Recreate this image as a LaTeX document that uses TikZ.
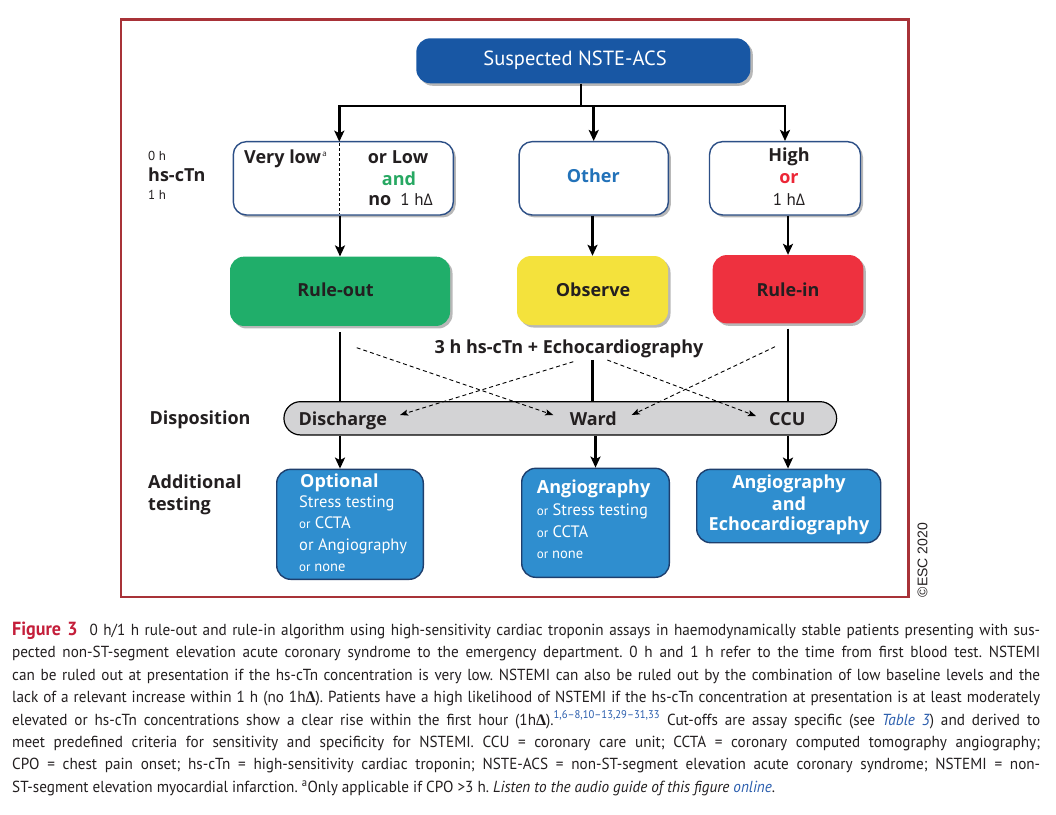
\documentclass[tikz,border=0pt]{standalone}
\usepackage{fontspec}
\setmainfont{PT Sans}
\newfontfamily\capfont[FakeStretch=0.95]{PT Sans}
\newfontfamily\dfont{Open Sans}
\newfontfamily\obold{Open Sans}
\newfontfamily\serd{Liberation Serif}
\newfontfamily\escfont{Liberation Sans}
\usetikzlibrary{arrows.meta,shadows}
\definecolor{frame}{HTML}{A83238}
\definecolor{topblue}{HTML}{1857A4}
\definecolor{boxnavy}{HTML}{2C4F86}
\definecolor{othertxt}{HTML}{2272B9}
\definecolor{andgreen}{HTML}{27A862}
\definecolor{orred}{HTML}{EC2636}
\definecolor{rogreen}{HTML}{20AE6A}
\definecolor{obyellow}{HTML}{F4E23C}
\definecolor{rired}{HTML}{EE313F}
\definecolor{pillgray}{HTML}{D3D3D5}
\definecolor{testblue}{HTML}{2F8ECF}
\definecolor{testborder}{HTML}{1E3F6E}
\definecolor{darktxt}{HTML}{231F20}
\definecolor{capred}{HTML}{C41E3A}
\definecolor{capblue}{HTML}{2B5EAE}
\newcommand\fsz[1]{\fontsize{#1}{#1}\selectfont}
\newcommand\bdelta{{\serd\bfseries Δ}}
\tikzset{
  ln/.style={line width=2.6pt, draw=black},
  arr/.style={ln, -{Stealth[length=11pt,width=10pt,inset=2.5pt]}},
  darr/.style={line width=0.9pt, dash pattern=on 4pt off 3pt, -{Stealth[length=8pt,width=6pt,inset=1.5pt]}},
  sh/.style={drop shadow={shadow xshift=2.5pt, shadow yshift=-2.5pt, opacity=0.28, fill=black}},
  wbox/.style={draw=boxnavy, line width=1.4pt, fill=white, rounded corners=13pt, inner sep=0pt, sh},
  cbox/.style={draw=none, rounded corners=14pt, inner sep=0pt, sh},
  tbox/.style={draw=testborder, line width=1.4pt, fill=testblue, rounded corners=14pt, inner sep=0pt},
  lbl/.style={inner sep=0pt, font=\obold\bfseries\fsz{18}, text=darktxt},
  txt/.style={inner sep=0pt, text=white},
  capl/.style={anchor=base west, inner sep=0pt, font=\capfont\fsz{16}\frenchspacing, text=darktxt}
}
\begin{document}
\begin{tikzpicture}[x=1pt,y=-1pt]
\useasboundingbox (0,0) rectangle (1056,814);
\fill[white] (0,0) rectangle (1056,814);
\draw[frame, line width=2.5pt] (121,19.5) rectangle (908.3,596.8);

% top node
\node[cbox, fill=topblue, minimum width=334pt, minimum height=45pt] (top) at (583.3,60.8) {};
\node[inner sep=0pt, font=\fsz{20.5}, text=white] (toptxt) at (575,60) {Suspected NSTE-ACS};

% hs-cTn boxes
\node[wbox, minimum width=220pt, minimum height=73.3pt] (vlow) at (343.3,178.3) {};
\node[wbox, minimum width=149.3pt, minimum height=73.3pt] (other) at (593.7,178.3) {};
\node[wbox, minimum width=151pt, minimum height=73.3pt] (high) at (785,178.3) {};
\coordinate (vl) at (339.3,141.7);
\draw[black, line width=0.9pt, dash pattern=on 3pt off 2pt] (339.3,143) -- (339.3,214);

\node[lbl, anchor=base west] (vltxt) at (244,163) {Very low\raisebox{7pt}{\mdseries\fsz{8}\,a}};
\node[lbl, anchor=base] (ortxt) at (398,163) {or Low};
\node[lbl, anchor=base, text=andgreen] (andtxt) at (399,185) {and};
\node[lbl, anchor=base] (notxt) at (400.5,205.7) {no {\rmfamily\mdseries\fsz{17} 1 h{\dfont\fsz{16}Δ}}};
\node[lbl, anchor=base, text=othertxt] (othtxt) at (593.3,182) {Other};
\node[lbl, anchor=base] (hightxt) at (789,161.7) {High};
\node[lbl, anchor=base, text=orred] (orrtxt) at (789,183) {or};
\node[inner sep=0pt, anchor=base, font=\fsz{17}, text=darktxt] (hdtxt) at (789,205) {1 h{\dfont\fsz{16}Δ}};

% left labels
\node[inner sep=0pt, anchor=base west, font=\fsz{13}, text=darktxt] (zeroh) at (148,160) {0 h};
\node[lbl, anchor=base west] (hsctn) at (148,181.7) {hs-cTn};
\node[inner sep=0pt, anchor=base west, font=\fsz{13}, text=darktxt] (oneh) at (148,199) {1 h};
\node[lbl, anchor=base west] (disptxt) at (149.3,424) {Disposition};
\node[lbl, anchor=base west] (addtxt) at (148,488.3) {Additional};
\node[lbl, anchor=base west] (testtxt) at (148,510) {testing};

% decision boxes
\node[cbox, fill=rogreen, minimum width=220pt, minimum height=69.3pt] (ruleout) at (340,291.3) {};
\node[cbox, fill=obyellow, minimum width=151pt, minimum height=69pt] (observe) at (592.5,290.5) {};
\node[cbox, fill=rired, minimum width=150.6pt, minimum height=68.3pt] (rulein) at (788,289.2) {};
\node[lbl, anchor=base] (rotxt) at (335.5,296) {Rule-out};
\node[lbl, anchor=base] (obtxt) at (593,296.7) {Observe};
\node[lbl, anchor=base] (ritxt) at (788,296.7) {Rule-in};

% arrows top
\coordinate (split) at (581,106);
\draw[ln] (top.south -| split) -- (split);
\draw[arr] (split) -| (vl);
\draw[arr] (split) -| (other.north);
\draw[arr] (split) -| (high.north);
\draw[arr] (ruleout.north |- vlow.south) -- (ruleout.north);
\draw[arr] (observe.north |- other.south) -- (observe.north);
\draw[arr] (rulein.north |- high.south) -- (rulein.north);

% disposition
\node[draw=black, line width=1.2pt, fill=pillgray, rounded corners=16.6pt, minimum width=552.7pt, minimum height=33.3pt, inner sep=0pt] (disp) at (560.3,418.3) {};
\node[lbl, anchor=base west] (dischtxt) at (298.3,425) {Discharge};
\node[lbl, anchor=base] (wardtxt) at (593.3,425) {Ward};
\node[lbl, anchor=base] (ccutxt) at (787.3,425) {CCU};

\node[lbl, anchor=base, inner sep=2pt] (echo) at (569,353.3) {3 h hs-cTn + Echocardiography};

\draw[ln, shorten <=6pt] (ruleout.south) -- (ruleout.south |- disp.north);
\draw[ln] (echo.south -| observe.south) -- (observe.south |- disp.north);
\draw[ln, shorten <=5pt] (rulein.south) -- (rulein.south |- disp.north);

\coordinate (d1s) at (356.7,347.7); \coordinate (d1e) at (553.3,415);
\coordinate (d2s) at (573.3,361.7); \coordinate (d2e) at (400,415);
\coordinate (d3s) at (607.3,360);   \coordinate (d3e) at (756,416);
\coordinate (d4s) at (775,346.7);   \coordinate (d4e) at (631.7,415);
\draw[darr] (d1s) -- (d1e);
\draw[darr] (d2s) -- (d2e);
\draw[darr] (d3s) -- (d3e);
\draw[darr] (d4s) -- (d4e);

% additional testing boxes
\node[tbox, minimum width=146.6pt, minimum height=110pt] (opt) at (350,524.3) {};
\node[tbox, minimum width=147.6pt, minimum height=109pt] (mid) at (595.5,522.8) {};
\node[tbox, minimum width=184pt, minimum height=73.4pt] (rbox) at (788.7,506) {};

\draw[arr] (ruleout.south |- disp.south) -- (ruleout.south |- opt.north);
\draw[arr] (mid.north |- disp.south) -- (mid.north);
\draw[arr] (rulein.south |- disp.south) -- (rulein.south |- rbox.north);

\node[txt, anchor=base west, font=\obold\bfseries\fsz{18}] (o1) at (300,487) {Optional};
\node[txt, anchor=base west, font=\fsz{16.5}] (o2) at (299,507) {Stress testing};
\node[txt, anchor=base west, font=\fsz{16.5}] (o3) at (299,528.5) {{\fsz{13}or} CCTA};
\node[txt, anchor=base west, font=\fsz{16.5}] (o4) at (299,550) {or Angiography};
\node[txt, anchor=base west, font=\fsz{14.5}] (o5) at (299,571.5) {{\fsz{13}or} none};

\node[txt, anchor=base west, font=\obold\bfseries\fsz{18}] (m1) at (536.7,493) {Angiography};
\node[txt, anchor=base west, font=\fsz{16.5}] (m2) at (536.7,515) {{\fsz{13}or} Stress testing};
\node[txt, anchor=base west, font=\fsz{16.5}] (m3) at (536.7,537) {{\fsz{13}or} CCTA};
\node[txt, anchor=base west, font=\fsz{14.5}] (m4) at (536.7,558.5) {{\fsz{13}or} none};

\node[txt, anchor=base, font=\obold\bfseries\fsz{18}] (r1) at (789,488) {Angiography};
\node[txt, anchor=base, font=\obold\bfseries\fsz{18}] (r2) at (789,510) {and};
\node[txt, anchor=base, font=\obold\bfseries\fsz{18}] (r3) at (789,530.5) {Echocardiography};

\node[rotate=90, inner sep=0pt, font=\escfont\fsz{14}, text=darktxt] (esc) at (922.5,560) {©ESC 2020};

% caption
\node[capl] (c1) at (12,635.5) {\makebox[1028pt][s]{\textcolor{capred}{\bfseries\fsz{19}Figure 3}\hspace{0.4em} 0 h/1 h rule-out and rule-in algorithm using high-sensitivity cardiac troponin assays in haemodynamically stable patients presenting with sus-}};
\node[capl] (c2) at (12,657.9) {\makebox[1028pt][s]{pected non-ST-segment elevation acute coronary syndrome to the emergency department. 0 h and 1 h refer to the time from first blood test. NSTEMI}};
\node[capl] (c3) at (12,680.3) {\makebox[1028pt][s]{can be ruled out at presentation if the hs-cTn concentration is very low. NSTEMI can also be ruled out by the combination of low baseline levels and the}};
\node[capl] (c4) at (12,702.7) {\makebox[1028pt][s]{lack of a relevant increase within 1 h (no 1h\bdelta). Patients have a high likelihood of NSTEMI if the hs-cTn concentration at presentation is at least moderately}};
\node[capl] (c5) at (12,725.1) {\makebox[1028pt][s]{elevated or hs-cTn concentrations show a clear rise within the first hour (1h\bdelta).\textsuperscript{\textcolor{capblue}{1,6–8,10–13,29–31,33}} Cut-offs are assay specific (see \textcolor{capblue}{\itshape Table 3}) and derived to}};
\node[capl] (c6) at (12,747.5) {\makebox[1028pt][s]{meet predefined criteria for sensitivity and specificity for NSTEMI. CCU = coronary care unit; CCTA = coronary computed tomography angiography;}};
\node[capl] (c7) at (12,769.9) {\makebox[1028pt][s]{CPO = chest pain onset; hs-cTn = high-sensitivity cardiac troponin; NSTE-ACS = non-ST-segment elevation acute coronary syndrome; NSTEMI = non-}};
\node[capl] (c8) at (12,792.3) {ST-segment elevation myocardial infarction. \textsuperscript{a}Only applicable if CPO >3 h. {\itshape Listen to the audio guide of this figure \textcolor{capblue}{online}}.};
\end{tikzpicture}
\end{document}
